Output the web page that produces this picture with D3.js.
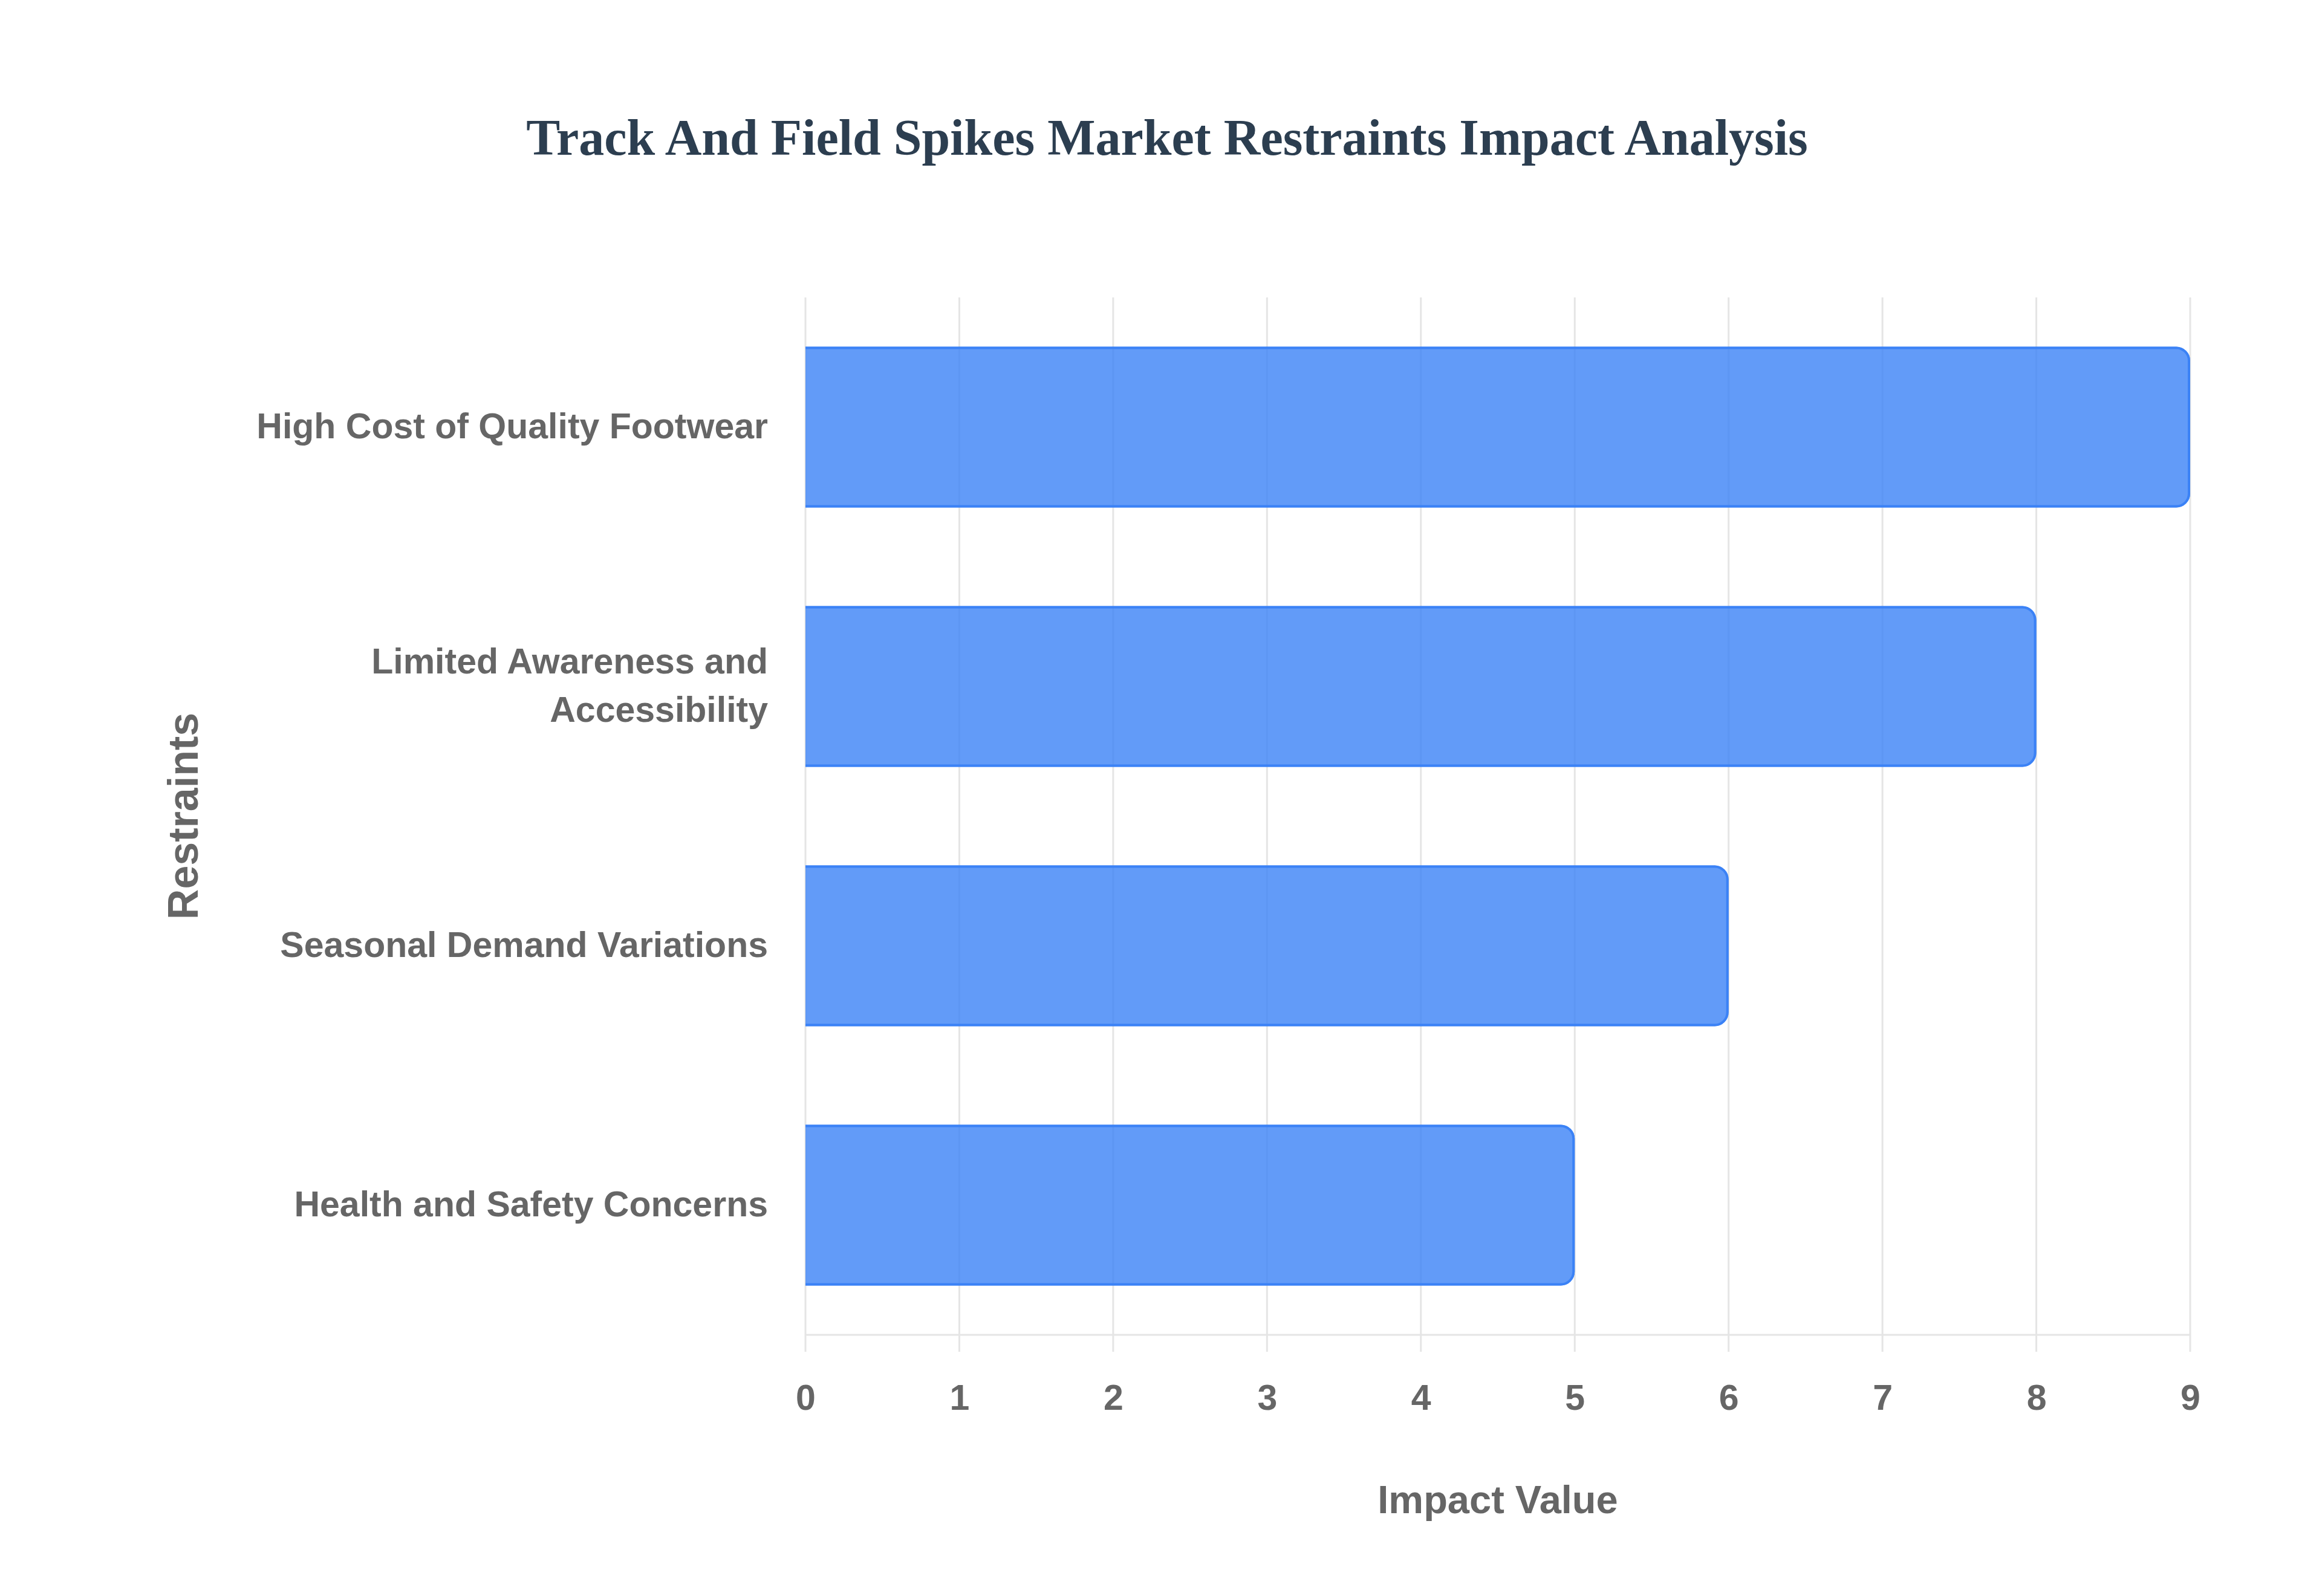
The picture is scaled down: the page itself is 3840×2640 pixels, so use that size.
<!DOCTYPE html>
<html>
<head>
<meta charset="utf-8">
<script src="https://cdn.jsdelivr.net/npm/d3@7"></script>
<style>
  html, body { margin: 0; padding: 0; background: #fff; }
  svg { display: block; }
</style>
</head>
<body>
<div id="chart"></div>
<script>
// chart data
const categories = [
  ['High Cost of Quality Footwear'],
  ['Limited Awareness and', 'Accessibility'],
  ['Seasonal Demand Variations'],
  ['Health and Safety Concerns']
];
const impactValues = [9, 8, 6, 5];
const xTicks = [0, 1, 2, 3, 4, 5, 6, 7, 8, 9];

const W = 3840, H = 2640;
const margin = { top: 492, right: 218, bottom: 432, left: 1332 };
const innerW = W - margin.left - margin.right;
const innerH = H - margin.top - margin.bottom;

const svg = d3.select('#chart').append('svg')
  .attr('width', W).attr('height', H)
  .attr('viewBox', `0 0 ${W} ${H}`);

svg.append('rect').attr('width', W).attr('height', H).attr('fill', '#fff');

svg.append('text')
  .attr('x', 1930).attr('y', 256)
  .attr('text-anchor', 'middle')
  .attr('font-family', '"Liberation Serif", "Times New Roman", serif')
  .attr('font-weight', 'bold')
  .attr('font-size', 84)
  .attr('fill', '#2c3e50')
  .text('Track And Field Spikes Market Restraints Impact Analysis');

const g = svg.append('g').attr('transform', `translate(${margin.left},${margin.top})`);

const x = d3.scaleLinear().domain([0, 9]).range([0, innerW]);
const y = d3.scaleBand()
  .domain(d3.range(categories.length))
  .range([0, innerH])
  .paddingInner(0.38)
  .paddingOuter(0.19);

// vertical grid lines, running past the axis as ticks
g.append('g')
  .selectAll('line')
  .data(xTicks)
  .join('line')
  .attr('x1', d => x(d)).attr('x2', d => x(d))
  .attr('y1', 0).attr('y2', innerH + 28)
  .attr('stroke', '#e5e5e5')
  .attr('stroke-width', 3);

// bottom axis line
g.append('line')
  .attr('x1', 0).attr('x2', innerW)
  .attr('y1', innerH).attr('y2', innerH)
  .attr('stroke', '#e5e5e5')
  .attr('stroke-width', 3);

// x tick labels
const xAxis = d3.axisBottom(x).tickValues(xTicks).tickSize(0).tickPadding(0).tickFormat(d3.format('d'));
const xg = g.append('g').attr('transform', `translate(0,${innerH})`).call(xAxis);
xg.select('.domain').remove();
xg.selectAll('text')
  .attr('dy', null)
  .attr('y', 124)
  .attr('font-family', '"Liberation Sans", Arial, sans-serif')
  .attr('font-weight', 'bold')
  .attr('font-size', 59)
  .attr('fill', '#666');

// bars: rounded on the value end only
const r = 23;
function barFill(d, i) {
  const x0 = x(0), x1 = x(d), y0 = y(i), y1 = y(i) + y.bandwidth();
  return `M${x0},${y0}H${x1 - r}A${r},${r} 0 0 1 ${x1},${y0 + r}V${y1 - r}A${r},${r} 0 0 1 ${x1 - r},${y1}H${x0}Z`;
}
function barEdge(d, i) {
  const x0 = x(0), x1 = x(d), y0 = y(i) + 2, y1 = y(i) + y.bandwidth() - 2;
  const rr = r - 2;
  return `M${x0},${y0}H${x1 - 2 - rr}A${rr},${rr} 0 0 1 ${x1 - 2},${y0 + rr}V${y1 - rr}A${rr},${rr} 0 0 1 ${x1 - 2 - rr},${y1}H${x0}`;
}

const bars = g.append('g');
bars.selectAll('path.fill')
  .data(impactValues)
  .join('path')
  .attr('class', 'fill')
  .attr('d', barFill)
  .attr('fill', 'rgba(59,130,246,0.8)');
bars.selectAll('path.edge')
  .data(impactValues)
  .join('path')
  .attr('class', 'edge')
  .attr('d', barEdge)
  .attr('fill', 'none')
  .attr('stroke', '#3b82f6')
  .attr('stroke-width', 4);

// category labels
const lineH = 80;
const yl = g.append('g');
categories.forEach((lines, i) => {
  const cy = y(i) + y.bandwidth() / 2;
  const t = yl.append('text')
    .attr('text-anchor', 'end')
    .attr('font-family', '"Liberation Sans", Arial, sans-serif')
    .attr('font-weight', 'bold')
    .attr('font-size', 59)
    .attr('fill', '#666');
  lines.forEach((ln, j) => {
    t.append('tspan')
      .attr('x', -62)
      .attr('y', cy + 18 + (j - (lines.length - 1) / 2) * lineH)
      .text(ln);
  });
});

// axis titles
svg.append('text')
  .attr('x', 2477).attr('y', 2503)
  .attr('text-anchor', 'middle')
  .attr('font-family', '"Liberation Sans", Arial, sans-serif')
  .attr('font-weight', 'bold')
  .attr('font-size', 65)
  .attr('fill', '#666')
  .text('Impact Value');

svg.append('text')
  .attr('transform', `translate(327,${margin.top + innerH / 2}) rotate(-90)`)
  .attr('text-anchor', 'middle')
  .attr('font-family', '"Liberation Sans", Arial, sans-serif')
  .attr('font-weight', 'bold')
  .attr('font-size', 70)
  .attr('fill', '#666')
  .text('Restraints');
</script>
</body>
</html>
